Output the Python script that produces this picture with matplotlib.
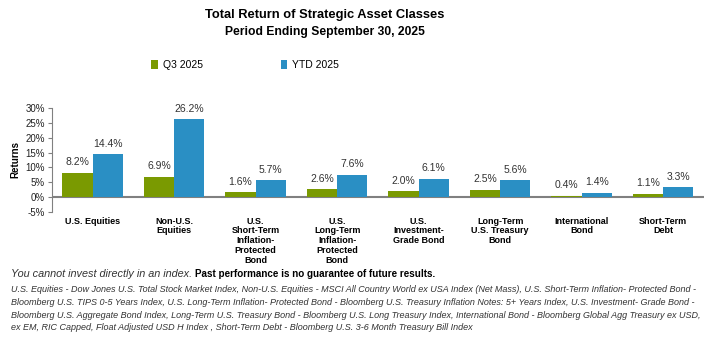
import numpy as np
import matplotlib
matplotlib.use("Agg")
import matplotlib.pyplot as plt

categories = ["U.S. Equities", "Non-U.S.\nEquities", "U.S.\nShort-Term\nInflation-\nProtected\nBond",
              "U.S.\nLong-Term\nInflation-\nProtected\nBond", "U.S.\nInvestment-\nGrade Bond",
              "Long-Term\nU.S. Treasury\nBond", "International\nBond", "Short-Term\nDebt"]
q3_2025 = [8.2, 6.9, 1.6, 2.6, 2.0, 2.5, 0.4, 1.1]
ytd_2025 = [14.4, 26.2, 5.7, 7.6, 6.1, 5.6, 1.4, 3.3]
yticks = [-5, 0, 5, 10, 15, 20, 25, 30]

footnote = ("U.S. Equities - Dow Jones U.S. Total Stock Market Index, Non-U.S. Equities - MSCI All Country World ex USA Index (Net Mass), U.S. Short-Term Inflation- Protected Bond -\n"
            "Bloomberg U.S. TIPS 0-5 Years Index, U.S. Long-Term Inflation- Protected Bond - Bloomberg U.S. Treasury Inflation Notes: 5+ Years Index, U.S. Investment- Grade Bond -\n"
            "Bloomberg U.S. Aggregate Bond Index, Long-Term U.S. Treasury Bond - Bloomberg U.S. Long Treasury Index, International Bond - Bloomberg Global Agg Treasury ex USD,\n"
            "ex EM, RIC Capped, Float Adjusted USD H Index , Short-Term Debt - Bloomberg U.S. 3-6 Month Treasury Bill Index")

green = "#7a9a01"
blue = "#2a8fc4"
plt.rcParams["font.family"] = ["Liberation Sans", "DejaVu Sans"]

fig = plt.figure(figsize=(7.11, 3.44), dpi=100)
ax = fig.add_axes([0.073, 0.384, 0.917, 0.302])

x = np.arange(len(categories))
w = 0.37
b1 = ax.bar(x - w / 2, q3_2025, w, color=green, label="Q3 2025")
b2 = ax.bar(x + w / 2, ytd_2025, w, color=blue, label="YTD 2025")
for bars, vals in [(b1, q3_2025), (b2, ytd_2025)]:
    for r, v in zip(bars, vals):
        ax.annotate(f"{v:.1f}%", (r.get_x() + r.get_width() / 2, v), xytext=(0, 4),
                    textcoords="offset points", ha="center", va="bottom",
                    fontsize=7.5, color="#333333")

ax.axhline(0, color="#808080", lw=1.5, zorder=0)
ax.set_xlim(-0.5, len(categories) - 0.5)
ax.set_ylim(-5, 30)
ax.set_yticks(yticks)
ax.set_yticklabels([f"{t}%" for t in yticks], fontsize=7, color="#222222")
ax.set_xticks(x)
ax.set_xticklabels(categories, fontsize=6.5, fontweight="bold", linespacing=1.1)
ax.tick_params(axis="x", length=0, pad=3.5)
ax.tick_params(axis="y", length=3, color="#808080", pad=2)
for s in ["top", "right", "bottom"]:
    ax.spines[s].set_visible(False)
ax.spines["left"].set_color("#808080")
ax.set_ylabel("Returns", fontsize=7, fontweight="bold", labelpad=4)

fig.text(0.457, 0.955, "Total Return of Strategic Asset Classes", ha="center", va="center",
         fontsize=9.3, fontweight="bold")
fig.text(0.457, 0.908, "Period Ending September 30, 2025", ha="center", va="center",
         fontsize=8.7, fontweight="bold")
fig.legend(handles=[b1, b2], loc="center", bbox_to_anchor=(0.345, 0.81), ncol=2,
           frameon=False, fontsize=7.5, handlelength=0.6, handleheight=0.9,
           columnspacing=7.5, handletextpad=0.5)

t1 = fig.text(0.015, 0.203, "You cannot invest directly in an index.", ha="left", va="center",
              fontsize=7.8, style="italic", color="#333333")
fig.canvas.draw()
bb = t1.get_window_extent().transformed(fig.transFigure.inverted())
fig.text(bb.x1 + 0.004, 0.203, "Past performance is no guarantee of future results.", ha="left",
         va="center", fontsize=7.1, fontweight="bold")
fig.text(0.015, 0.172, footnote, ha="left", va="top", fontsize=6.5, style="italic",
         color="#333333", linespacing=1.55)

fig.savefig("out.png", dpi=100)
